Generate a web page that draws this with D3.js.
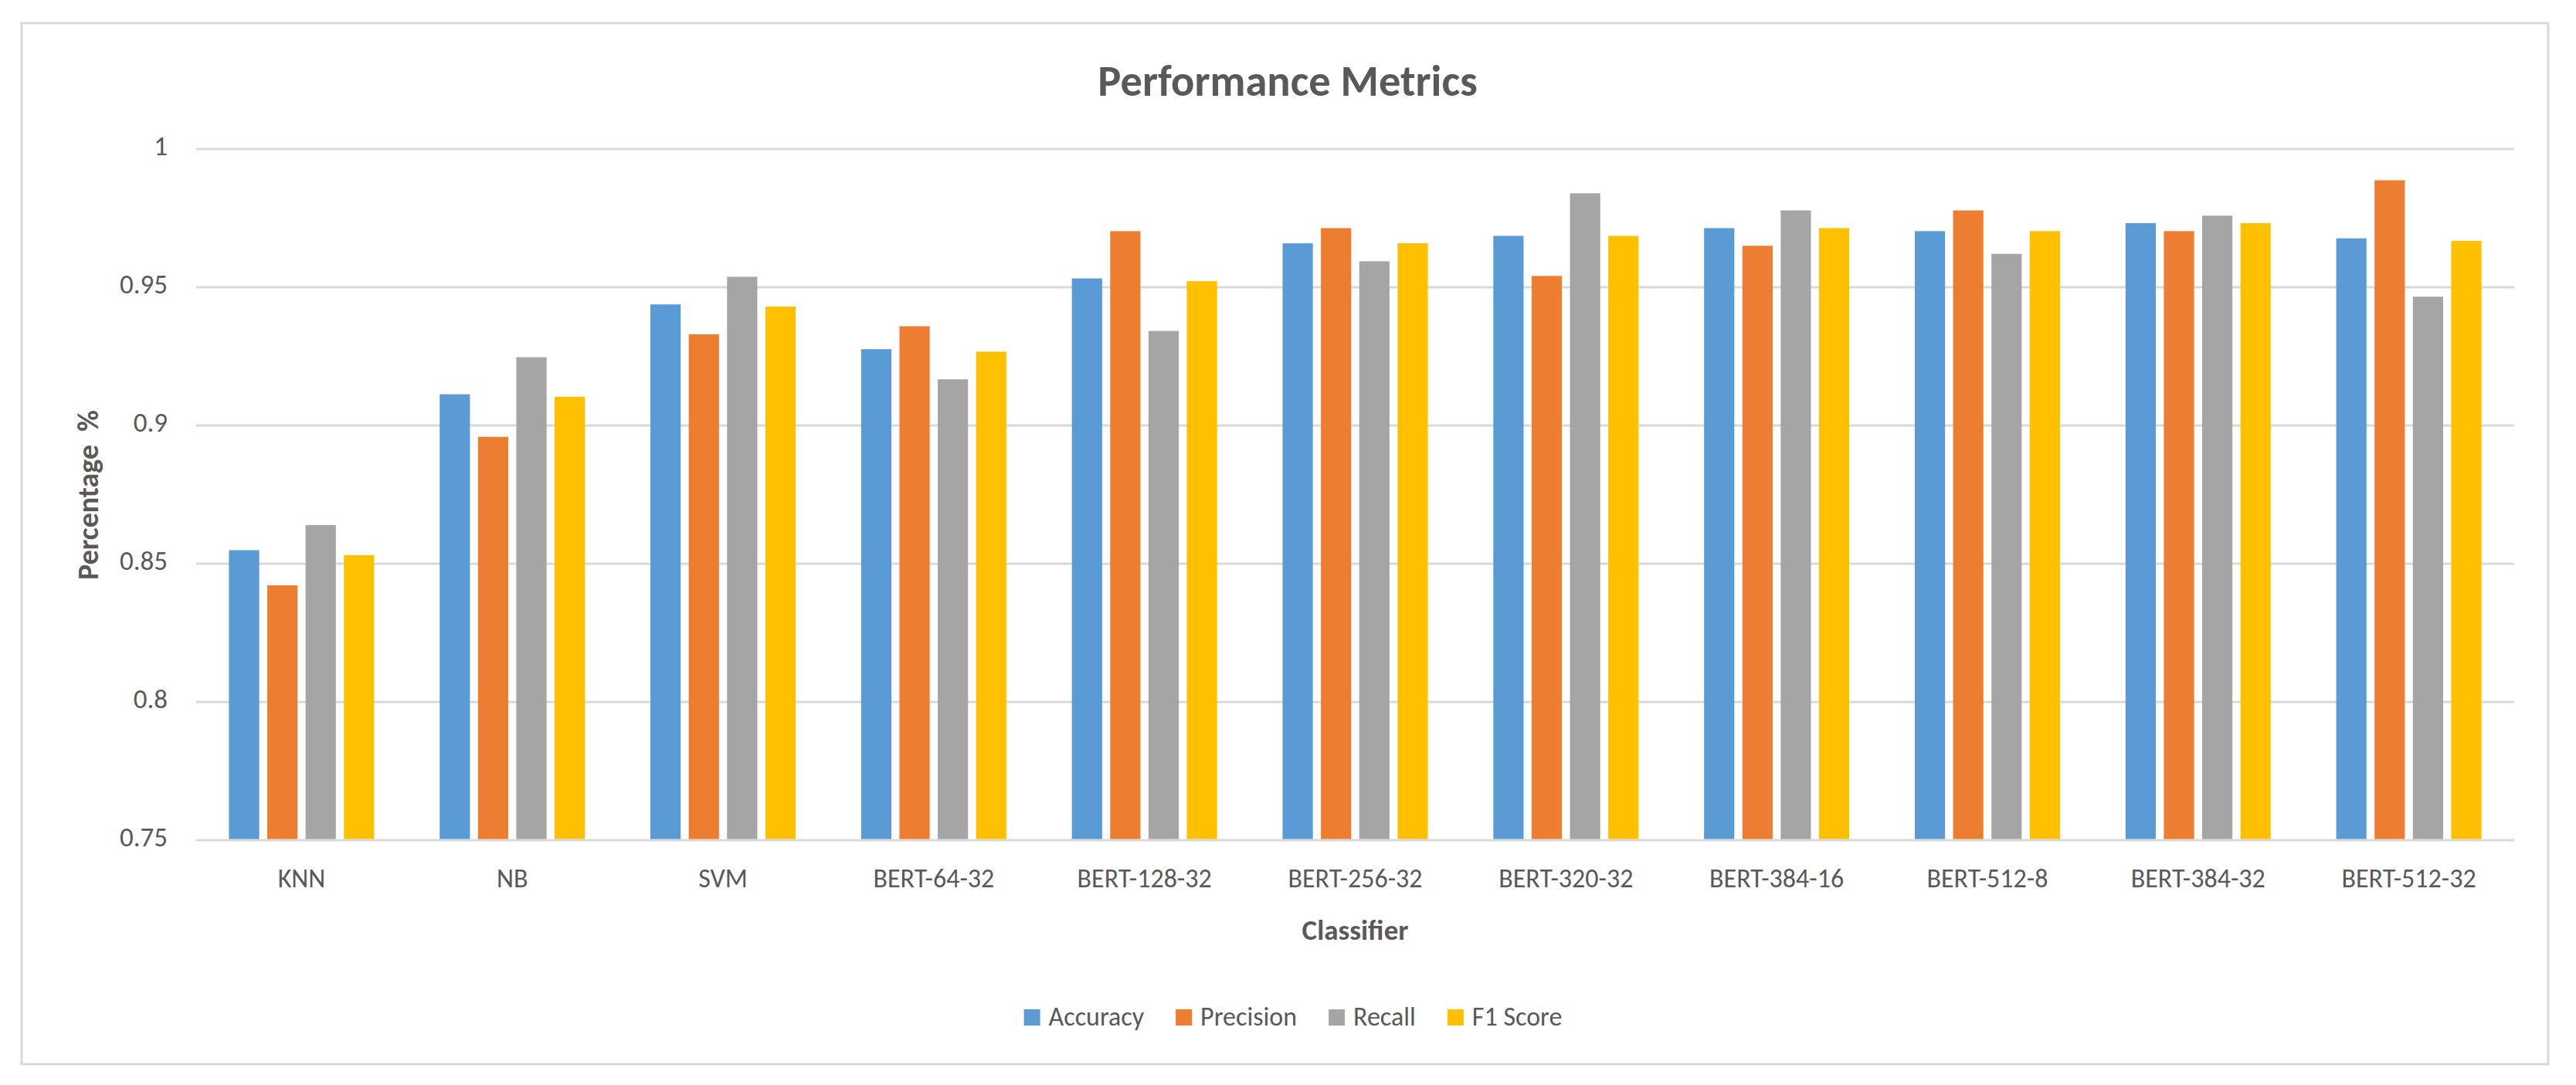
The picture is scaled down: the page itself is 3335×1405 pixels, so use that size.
<!DOCTYPE html>
<html>
<head>
<meta charset="utf-8">
<script src="https://cdn.jsdelivr.net/npm/d3@7"></script>
<style>
  html, body { margin: 0; padding: 0; background: #fff; }
  svg { display: block; }
  text { font-family: Calibri, Carlito, Lato, sans-serif; fill: #595959; }
</style>
</head>
<body>
<script>
const categories = ["KNN", "NB", "SVM", "BERT-64-32", "BERT-128-32", "BERT-256-32", "BERT-320-32", "BERT-384-16", "BERT-512-8", "BERT-384-32", "BERT-512-32"];
const seriesNames = ["Accuracy", "Precision", "Recall", "F1 Score"];
const accuracy  = [0.8549, 0.9113, 0.9438, 0.9276, 0.9532, 0.9659, 0.9686, 0.9714, 0.9703, 0.9732, 0.9677];
const precision = [0.8422, 0.8959, 0.9330, 0.9359, 0.9703, 0.9714, 0.9541, 0.9650, 0.9778, 0.9703, 0.9887];
const recall    = [0.8640, 0.9247, 0.9538, 0.9167, 0.9342, 0.9594, 0.9840, 0.9778, 0.9621, 0.9759, 0.9466];
const f1score   = [0.8531, 0.9104, 0.9430, 0.9267, 0.9522, 0.9659, 0.9686, 0.9714, 0.9703, 0.9732, 0.9668];
const yTicks = [0.75, 0.8, 0.85, 0.9, 0.95, 1];
const yTickLabels = ["0.75", "0.8", "0.85", "0.9", "0.95", "1"];
const colors = ["#5B9BD5", "#ED7D31", "#A5A5A5", "#FFC000"];
const titleText = "Performance Metrics";
const xTitle = "Classifier";
const yTitle = "Percentage\u00A0 %";

const values = [accuracy, precision, recall, f1score];
const W = 3335, H = 1405;
const plot = { left: 254, right: 3255, top: 193, bottom: 1088 };

const svg = d3.select("body").append("svg").attr("width", W).attr("height", H);
svg.append("rect").attr("width", W).attr("height", H).attr("fill", "#fff");

// chart border
svg.append("rect")
  .attr("x", 28).attr("y", 30).attr("width", 3299 - 28).attr("height", 1378 - 30)
  .attr("fill", "none").attr("stroke", "#D9D9D9").attr("stroke-width", 3);

const x0 = d3.scaleBand().domain(categories).range([plot.left, plot.right]).padding(0);
const groupW = 188;
const x1 = d3.scaleBand().domain(seriesNames)
  .range([(x0.bandwidth() - groupW) / 2, (x0.bandwidth() + groupW) / 2])
  .paddingInner(0.21).paddingOuter(0);
const y = d3.scaleLinear().domain([0.75, 1]).range([plot.bottom, plot.top]);
const color = d3.scaleOrdinal().domain(seriesNames).range(colors);

// gridlines
svg.append("g").selectAll("line").data(yTicks).join("line")
  .attr("x1", plot.left).attr("x2", plot.right)
  .attr("y1", d => y(d)).attr("y2", d => y(d))
  .attr("stroke", "#D9D9D9").attr("stroke-width", 3);

// y axis labels
const yAxis = d3.axisLeft(y).tickValues(yTicks)
  .tickFormat((d, i) => yTickLabels[i]).tickSize(0).tickPadding(0);
const gy = svg.append("g").attr("transform", `translate(217,0)`).call(yAxis);
gy.select(".domain").remove();
gy.selectAll("text")
  .attr("font-size", 35).attr("fill", "#595959")
  .style("font-family", "Calibri, Carlito, Lato, sans-serif")
  .attr("dy", "0.2em");

// bars
const rows = categories.map((c, i) => ({ cat: c, vals: seriesNames.map((s, j) => ({ s, v: values[j][i] })) }));
const groups = svg.append("g").selectAll("g").data(rows).join("g")
  .attr("transform", d => `translate(${x0(d.cat)},0)`);
groups.selectAll("rect").data(d => d.vals).join("rect")
  .attr("x", d => x1(d.s))
  .attr("width", x1.bandwidth())
  .attr("y", d => y(d.v))
  .attr("height", d => y(0.75) - y(d.v) - 1.5)
  .attr("fill", d => color(d.s));

// x axis labels
const xAxis = d3.axisBottom(x0).tickSize(0).tickPadding(0);
const gx = svg.append("g").attr("transform", `translate(0,1149)`).call(xAxis);
gx.select(".domain").remove();
gx.selectAll("text")
  .attr("font-size", 34).attr("fill", "#595959")
  .style("font-family", "Calibri, Carlito, Lato, sans-serif")
  .attr("dy", 0).attr("y", 0);

// title
svg.append("text").attr("x", 1667).attr("y", 124)
  .attr("text-anchor", "middle").attr("font-size", 56.5).attr("font-weight", "bold")
  .text(titleText);

// axis titles
svg.append("text").attr("x", (plot.left + plot.right) / 2).attr("y", 1217)
  .attr("text-anchor", "middle").attr("font-size", 37).attr("font-weight", "bold")
  .text(xTitle);
svg.append("text")
  .attr("transform", `translate(127,641) rotate(-90)`)
  .attr("text-anchor", "middle").attr("font-size", 38).attr("font-weight", "bold")
  .style("white-space", "pre")
  .text(yTitle);

// legend
const legend = svg.append("g");
const items = legend.selectAll("g").data(seriesNames).join("g");
items.append("rect").attr("width", 21).attr("height", 21).attr("y", -21)
  .attr("fill", d => color(d));
items.append("text").attr("x", 32).attr("y", 0).attr("font-size", 34).text(d => d);
let cx = 0;
items.each(function () {
  const g = d3.select(this);
  const w = 32 + g.select("text").node().getComputedTextLength();
  g.attr("transform", `translate(${cx},0)`);
  this._w = w;
  cx += w + 41;
});
const totalW = cx - 41;
legend.attr("transform", `translate(${1674 - totalW / 2},1328)`);
</script>
</body>
</html>
